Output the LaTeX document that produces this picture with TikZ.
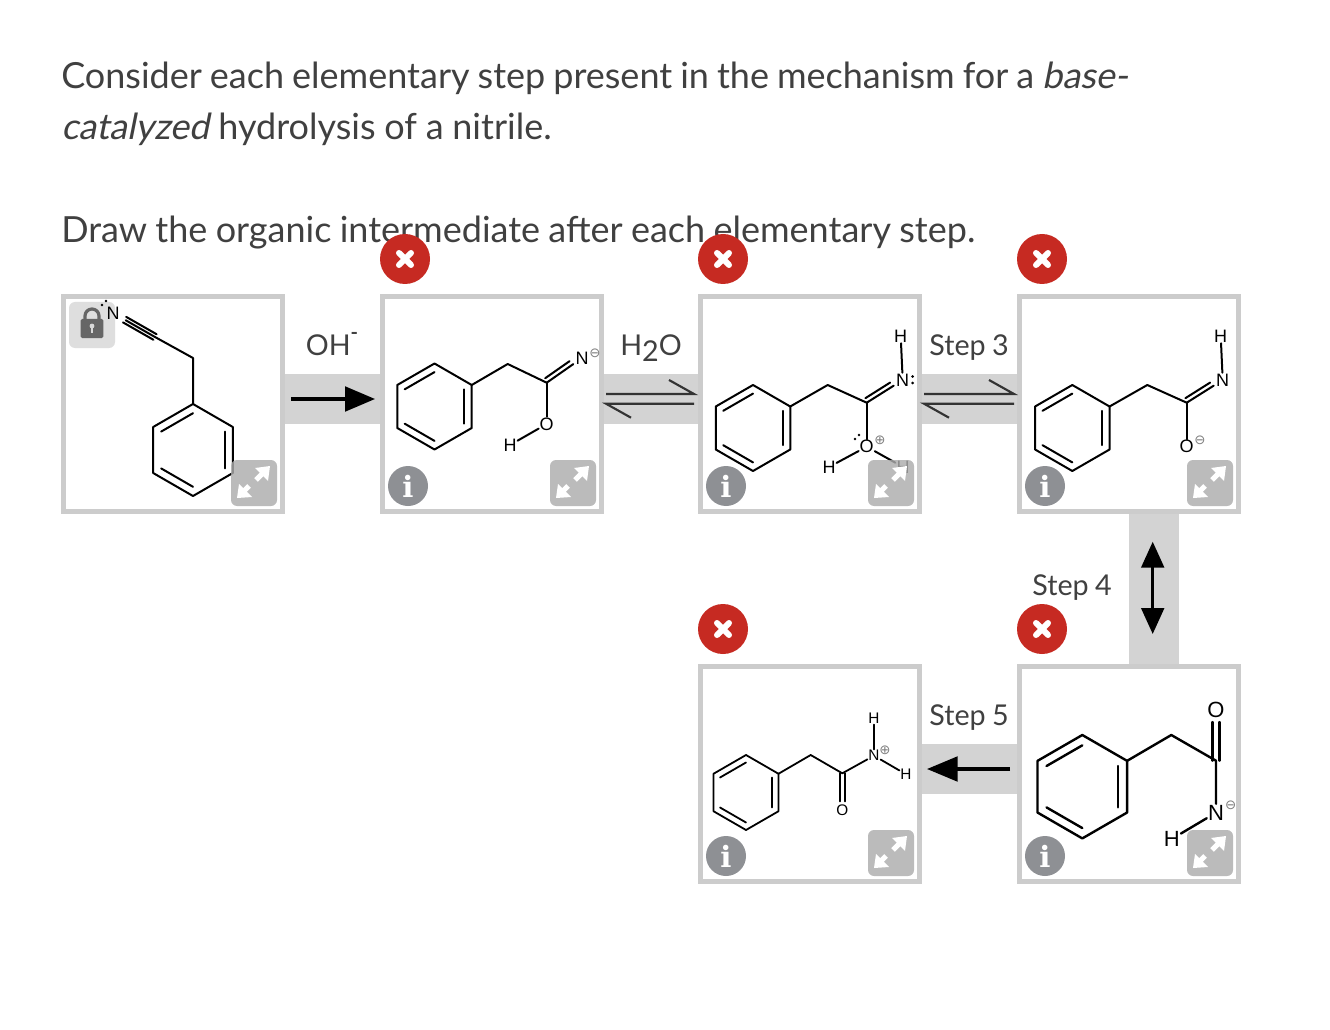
\documentclass[tikz,border=0pt]{standalone}
\usepackage{fontspec}
\setmainfont[WordSpace=0.87]{Lato}
\newfontfamily\slantfont[FakeSlant=0.2,WordSpace=0.87]{Lato}
\newfontfamily\lineb[WordSpace=1]{Lato}
\newfontfamily\linec[WordSpace=0.95]{Lato}
\newfontfamily\atomfont{Liberation Sans}
\newfontfamily\symfont{DejaVu Sans}
\newfontfamily\infofont{DejaVu Serif}
\usetikzlibrary{calc,arrows.meta}
\definecolor{txt}{HTML}{404040}
\definecolor{frame}{HTML}{CCCCCC}
\definecolor{bar}{HTML}{D3D3D3}
\definecolor{badge}{HTML}{C62A22}
\definecolor{btn}{HTML}{ADADAD}
\definecolor{infog}{HTML}{8E9094}
\tikzset{
  x=0.75pt,y=-0.75pt,
  para/.style={anchor=base west,inner sep=0pt,text=txt,font=\fontsize{27}{27}\selectfont},
  stepl/.style={anchor=base,inner sep=0pt,text=txt,font=\fontsize{21.5}{24}\selectfont},
  boxn/.style={draw=frame,line width=3.75pt,fill=white,minimum width=164.25pt,minimum height=161.25pt,inner sep=0pt},
  barn/.style={fill=bar,inner sep=0pt,draw=none},
  bondl/.style={line width=1.5pt,line cap=round,line join=round,black},
  atom/.style={inner sep=0.6pt,text=black,font=\atomfont\fontsize{13.5}{14}\selectfont},
  atoms/.style={inner sep=0.6pt,text=black,font=\atomfont\fontsize{11.5}{12}\selectfont},
  atomb/.style={inner sep=0.8pt,text=black,font=\atomfont\fontsize{16.5}{18}\selectfont},
  chg/.style={inner sep=0pt,text=black!50,font=\symfont\fontsize{10}{10}\selectfont},
  rxn/.style={line width=2.4pt,black},
  eqm/.style={line width=1.6pt,black!80},
}
% prefix, cx, cy, r
\newcommand\benz[4]{%
  \coordinate (#1c) at (#2,#3);
  \coordinate (#1a) at ($(#2,#3)+(0,-#4)$);
  \coordinate (#1b) at ($(#2,#3)+(0.866*#4,-0.5*#4)$);
  \coordinate (#1d) at ($(#2,#3)+(0.866*#4,0.5*#4)$);
  \coordinate (#1e) at ($(#2,#3)+(0,#4)$);
  \coordinate (#1f) at ($(#2,#3)+(-0.866*#4,0.5*#4)$);
  \coordinate (#1g) at ($(#2,#3)+(-0.866*#4,-0.5*#4)$);
  \draw[bondl] (#1a)--(#1b)--(#1d)--(#1e)--(#1f)--(#1g)--cycle;
  \draw[bondl] ($(#1c)!0.8!(#1g)$)--($(#1c)!0.8!(#1a)$);
  \draw[bondl] ($(#1c)!0.8!(#1b)$)--($(#1c)!0.8!(#1d)$);
  \draw[bondl] ($(#1c)!0.8!(#1e)$)--($(#1c)!0.8!(#1f)$);
}
% options, from, to, perpendicular offset in pt
\newcommand\offbond[4][]{%
  \draw[bondl,#1] ($(#2)!#4!90:(#3)$)--($(#3)!#4!-90:(#2)$);
}
\newcommand\expbtn[3]{%
  \node[fill=btn,opacity=0.82,rounded corners=4.5pt,minimum size=34.5pt,inner sep=0pt] (#1) at (#2+23,#3+23) {};
  \begin{scope}[shift={(#2,#3)}]
    \fill[white] (39,6)--(24,8)--(37,21)--cycle;
    \fill[white] (6,38)--(8,24)--(21,37)--cycle;
    \draw[white,line width=3.9pt] (32,13)--(25,20);
    \draw[white,line width=3.9pt] (13,31)--(18,26);
  \end{scope}
}
\newcommand\infobtn[3]{%
  \node[circle,fill=infog,minimum size=30pt,inner sep=0pt,text=white,font=\infofont\bfseries\fontsize{22}{22}\selectfont] (#1) at (#2,#3) {i};
}
\newcommand\badgen[3]{%
  \node[circle,fill=badge,minimum size=37.5pt,inner sep=0pt] (#1) at (#2,#3) {};
  \draw[white,line width=4.5pt,line cap=round] ($(#1)+(-6,-6)$)--($(#1)+(6,6)$);
  \draw[white,line width=4.5pt,line cap=round] ($(#1)+(-6,6)$)--($(#1)+(6,-6)$);
}
\begin{document}
\begin{tikzpicture}
\useasboundingbox (0,0) rectangle (1330,1030);
\fill[white] (0,0) rectangle (1330,1030);
% text
\node[para] (t1) at (61,89) {Consider each elementary step present in the mechanism for a {\slantfont base-}};
\node[para] (t2) at (61,140) {{\slantfont catalyzed}\kern7pt{\lineb hydrolysis of a nitrile.}};
\node[para] (t3) at (61,243) {\linec Draw the organic intermediate after each elementary step.};
% connector bars
\node[barn,minimum width=72pt,minimum height=37.5pt] (bar1) at (332.5,399) {};
\node[barn,minimum width=72pt,minimum height=37.5pt] (bar2) at (651,399) {};
\node[barn,minimum width=72pt,minimum height=37.5pt] (bar3) at (970,399) {};
\node[barn,minimum width=37.5pt,minimum height=113pt] (bar4) at (1154,589) {};
\node[barn,minimum width=72pt,minimum height=37.5pt] (bar5) at (970,769) {};
% boxes
\node[boxn] (b1) at (173,404) {};
\node[boxn] (b2) at (492,404) {};
\node[boxn] (b3) at (810,404) {};
\node[boxn] (b4) at (1129,404) {};
\node[boxn] (b5) at (810,774) {};
\node[boxn] (b6) at (1129,774) {};
% step labels
\node[stepl] (l1) at (332,355) {OH\raisebox{1.05ex}{\fontsize{15}{15}\selectfont\textbf{-}}};
\node[stepl] (l2) at (651,355) {H\raisebox{-4.5pt}{2}O};
\node[stepl] (l3) at (969,355) {Step 3};
\node[stepl] (l4) at (1072,595) {Step 4};
\node[stepl] (l5) at (969,725) {Step 5};
% arrows
\coordinate (a1s) at (291,399); \coordinate (a1e) at (375,399);
\draw[rxn,-{Triangle[length=22.5pt,width=18.5pt]}] (a1s)--(a1e);
\coordinate (a5s) at (1010,769); \coordinate (a5e) at (927,769);
\draw[rxn,-{Triangle[length=23pt,width=18.5pt]}] (a5s)--(a5e);
\coordinate (a4s) at (1152.7,541.7); \coordinate (a4e) at (1152.7,634);
\draw[rxn,{Triangle[length=19.5pt,width=17pt]}-{Triangle[length=19.5pt,width=17pt]}] (a4s)--(a4e);
% equilibrium arrows
\coordinate (e1a) at (606,394); \coordinate (e1b) at (694,394); \coordinate (e1c) at (669,380);
\coordinate (e1d) at (694,403.7); \coordinate (e1e) at (606,403.7); \coordinate (e1f) at (631,417.7);
\draw[eqm] (e1a)--(e1b)--(e1c);
\draw[eqm] (e1d)--(e1e)--(e1f);
\coordinate (e2a) at (924,394); \coordinate (e2b) at (1014,394); \coordinate (e2c) at (989,380);
\coordinate (e2d) at (1014,403.7); \coordinate (e2e) at (924,403.7); \coordinate (e2f) at (949,417.7);
\draw[eqm] (e2a)--(e2b)--(e2c);
\draw[eqm] (e2d)--(e2e)--(e2f);
% lock, beneath the first molecule
\node[fill=black!13,rounded corners=4.5pt,minimum size=34.5pt,inner sep=0pt] (lock) at (92,325) {};
\fill[black!60,rounded corners=1pt] (80.7,319) rectangle (103.3,338);
\draw[black!60,line width=2.4pt] (85,320) -- (85,316) arc[start angle=180,end angle=360,radius=7] -- (99,320);
\fill[black!15] (92,326) circle (2.4);
\fill[black!15] (90.6,326) rectangle (93.4,333);
% molecule 1
\benz{ma}{193}{450}{46}
\coordinate (maCH) at (193,358);
\coordinate (maC) at (155,337);
\node[atom] (maN) at (113,313) {N};
\draw[bondl] (maa)--(maCH)--(maC);
\offbond[shorten >=11pt]{maC}{maN}{0pt}
\offbond[shorten >=10pt]{maC}{maN}{2.4pt}
\offbond[shorten >=10pt]{maC}{maN}{-2.4pt}
\fill (102,305) circle (1.1pt);
\fill (106,301) circle (1.1pt);
% molecule 2
\benz{mb}{434.5}{406.5}{43}
\coordinate (mbCH) at (507.7,364);
\coordinate (mbC) at (546.7,382.7);
\node[atom] (mbN) at (582,358) {N};
\node[atom] (mbO) at (546.7,424) {O};
\node[atom] (mbH) at (510,445) {H};
\node[chg] (mbq) at (595,353) {⊖};
\draw[bondl] (mbb)--(mbCH)--(mbC);
\draw[bondl] (mbC)--(mbO);
\draw[bondl] (mbO)--(mbH);
\offbond[shorten >=8pt]{mbC}{mbN}{0pt}
\offbond[shorten >=9pt,shorten <=1pt]{mbC}{mbN}{3.4pt}
% molecule 3
\benz{mc}{753}{428}{43}
\coordinate (mcCH) at (827.7,385);
\coordinate (mcC) at (866.7,402.7);
\node[atom] (mcN) at (902.7,380) {N};
\node[atom] (mcHa) at (900.7,336) {H};
\node[atom] (mcO) at (866.7,446.7) {O};
\node[atom] (mcHb) at (829,467) {H};
\node[atom] (mcHc) at (903,467) {H};
\node[chg] (mcq) at (880,440) {⊕};
\draw[bondl] (mcb)--(mcCH)--(mcC);
\draw[bondl] (mcC)--(mcO);
\draw[bondl] (mcO)--(mcHb);
\draw[bondl] (mcO)--(mcHc);
\draw[bondl] (mcN)--(mcHa);
\offbond[shorten >=8pt]{mcC}{mcN}{0pt}
\offbond[shorten >=9pt,shorten <=1pt]{mcC}{mcN}{3.4pt}
\fill (912.7,376.5) circle (1.1pt);
\fill (912.7,383) circle (1.1pt);
\fill (855,439) circle (1.1pt);
\fill (859,435) circle (1.1pt);
% molecule 4
\benz{md}{1072.3}{428}{43}
\coordinate (mdCH) at (1147.3,385);
\coordinate (mdC) at (1186.7,402.7);
\node[atom] (mdN) at (1222.7,380) {N};
\node[atom] (mdH) at (1220.7,336) {H};
\node[atom] (mdO) at (1186.7,446.7) {O};
\node[chg] (mdq) at (1200,440) {⊖};
\draw[bondl] (mdb)--(mdCH)--(mdC);
\draw[bondl] (mdC)--(mdO);
\draw[bondl] (mdN)--(mdH);
\offbond[shorten >=8pt]{mdC}{mdN}{0pt}
\offbond[shorten >=9pt,shorten <=1pt]{mdC}{mdN}{3.4pt}
% molecule 5
\begin{scope}[bondl/.append style={line width=1.35pt}]
\benz{me}{746}{792.5}{37.5}
\coordinate (meCH) at (810.7,755);
\coordinate (meC) at (842.3,773.3);
\node[atoms] (meN) at (874,755.7) {N};
\node[atoms] (meHa) at (874,718.3) {H};
\node[atoms] (meHb) at (906,774.3) {H};
\node[atoms] (meO) at (842.3,810.7) {O};
\node[chg] (meq) at (885,750.7) {⊕};
\draw[bondl] (meb)--(meCH)--(meC)--(meN);
\draw[bondl] (meN)--(meHa);
\draw[bondl] (meN)--(meHb);
\offbond[shorten >=7pt]{meC}{meO}{1.9pt}
\offbond[shorten >=7pt]{meC}{meO}{-1.9pt}
\end{scope}
% molecule 6
\begin{scope}[bondl/.append style={line width=1.8pt}]
\benz{mf}{1082.3}{786.7}{51.7}
\coordinate (mfCH) at (1171.3,735);
\coordinate (mfC) at (1216,760.7);
\node[atomb] (mfO) at (1216,710) {O};
\node[atomb] (mfN) at (1216,812.7) {N};
\node[atomb] (mfH) at (1171.7,839) {H};
\node[chg] (mfq) at (1230.7,805) {⊖};
\draw[bondl] (mfb)--(mfCH)--(mfC)--(mfN);
\draw[bondl] (mfN)--(mfH);
\offbond[shorten >=9pt]{mfC}{mfO}{2.5pt}
\offbond[shorten >=9pt]{mfC}{mfO}{-2.5pt}
\end{scope}
% buttons
\expbtn{x1}{231}{460}
\expbtn{x2}{550}{460}
\expbtn{x3}{868}{460}
\expbtn{x4}{1187}{460}
\expbtn{x5}{868}{830}
\expbtn{x6}{1187}{830}
\infobtn{i2}{408}{486}
\infobtn{i3}{726}{486}
\infobtn{i4}{1045}{486}
\infobtn{i5}{726}{856}
\infobtn{i6}{1045}{856}
\badgen{r2}{405}{259}
\badgen{r3}{723}{259}
\badgen{r4}{1042}{259}
\badgen{r5}{723}{629}
\badgen{r6}{1042}{629}
\end{tikzpicture}
\end{document}
